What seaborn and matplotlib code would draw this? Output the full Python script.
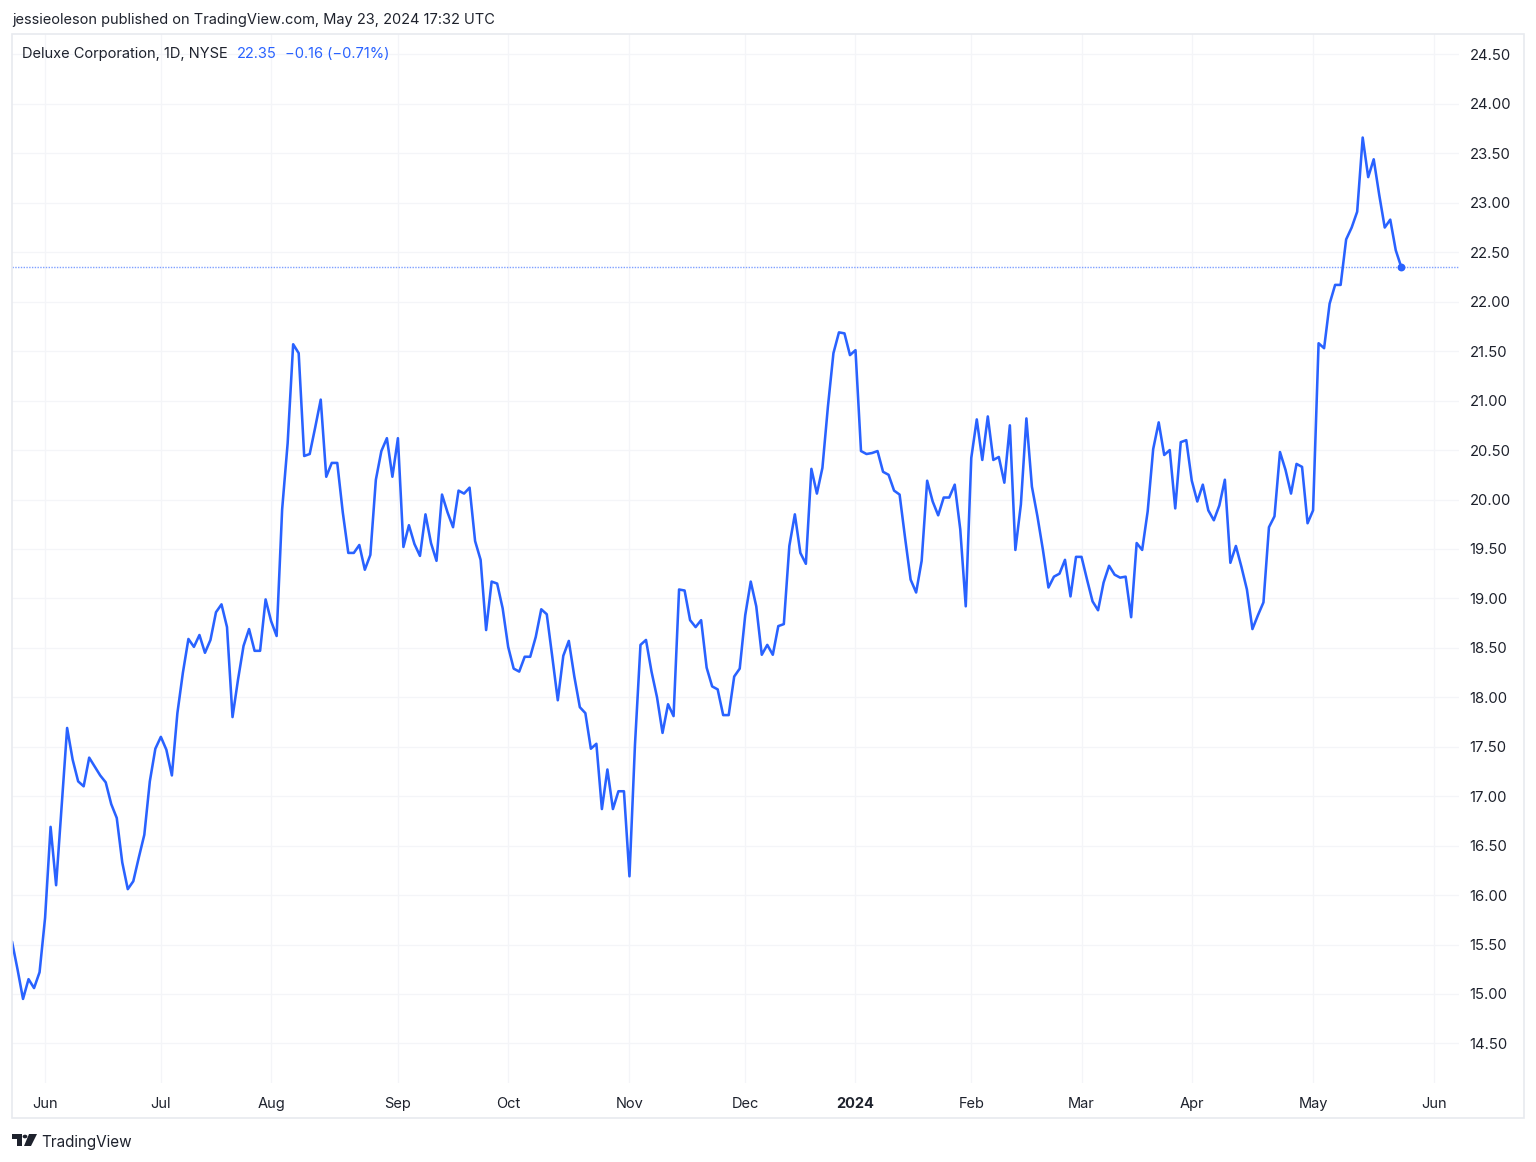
import matplotlib
matplotlib.use("Agg")
import matplotlib.pyplot as plt
from matplotlib.patches import Polygon, Rectangle
import numpy as np
import pandas as pd
import seaborn as sns

# daily close
close = [
    15.53, 15.25, 14.95, 15.15, 15.06, 15.22, 15.77, 16.69, 16.10, 16.90,
    17.69, 17.37, 17.15, 17.10, 17.39, 17.30, 17.21, 17.14, 16.92, 16.78,
    16.33, 16.06, 16.14, 16.38, 16.61, 17.15, 17.48, 17.60, 17.47, 17.21,
    17.84, 18.25, 18.59, 18.51, 18.63, 18.45, 18.58, 18.86, 18.94, 18.71,
    17.80, 18.18, 18.52, 18.69, 18.47, 18.47, 18.99, 18.77, 18.62, 19.90,
    20.57, 21.57, 21.48, 20.44, 20.46, 20.73, 21.01, 20.23, 20.37, 20.37,
    19.87, 19.46, 19.46, 19.54, 19.29, 19.44, 20.20, 20.49, 20.62, 20.23,
    20.62, 19.52, 19.74, 19.55, 19.43, 19.85, 19.56, 19.38, 20.05, 19.87,
    19.72, 20.09, 20.06, 20.12, 19.58, 19.39, 18.68, 19.17, 19.15, 18.90,
    18.51, 18.29, 18.26, 18.41, 18.41, 18.61, 18.89, 18.84, 18.41, 17.97,
    18.42, 18.57, 18.21, 17.90, 17.84, 17.48, 17.53, 16.87, 17.27, 16.87,
    17.05, 17.05, 16.19, 17.52, 18.53, 18.58, 18.26, 18.00, 17.64, 17.93,
    17.81, 19.09, 19.08, 18.78, 18.71, 18.78, 18.30, 18.11, 18.08, 17.82,
    17.82, 18.21, 18.29, 18.83, 19.17, 18.92, 18.43, 18.53, 18.43, 18.72,
    18.74, 19.53, 19.85, 19.46, 19.35, 20.31, 20.06, 20.32, 20.94, 21.48,
    21.69, 21.68, 21.46, 21.51, 20.49, 20.46, 20.47, 20.49, 20.28, 20.25,
    20.09, 20.05, 19.61, 19.19, 19.06, 19.38, 20.19, 19.98, 19.84, 20.02,
    20.02, 20.15, 19.70, 18.92, 20.42, 20.81, 20.40, 20.84, 20.40, 20.43,
    20.17, 20.75, 19.49, 19.95, 20.82, 20.13, 19.83, 19.49, 19.11, 19.22,
    19.25, 19.39, 19.02, 19.42, 19.42, 19.19, 18.97, 18.88, 19.16, 19.33,
    19.24, 19.21, 19.22, 18.81, 19.56, 19.49, 19.88, 20.51, 20.78, 20.45,
    20.50, 19.91, 20.58, 20.60, 20.19, 19.98, 20.15, 19.89, 19.79, 19.94,
    20.20, 19.36, 19.53, 19.32, 19.09, 18.69, 18.83, 18.96, 19.72, 19.83,
    20.48, 20.30, 20.06, 20.36, 20.33, 19.76, 19.89, 21.58, 21.53, 21.98,
    22.17, 22.17, 22.63, 22.75, 22.91, 23.66, 23.26, 23.44, 23.08, 22.75,
    22.83, 22.52, 22.35,
]
month_labels = ["Jun", "Jul", "Aug", "Sep", "Oct", "Nov", "Dec", "2024",
                "Feb", "Mar", "Apr", "May", "Jun"]
month_pos = [6, 27, 47, 70, 90, 112, 133, 153, 174, 194, 214, 236, 258]
price_ticks = [14.5, 15, 15.5, 16, 16.5, 17, 17.5, 18, 18.5, 19, 19.5,
               20, 20.5, 21, 21.5, 22, 22.5, 23, 23.5, 24, 24.5]

W, H = 1536, 1162
BLUE = "#2962FF"
TEXT = "#1e222d"
GRID = "#f4f5f8"
BORDER = "#e8eaef"

sns.set_theme(style="white")
plt.rcParams["font.family"] = ["Inter", "DejaVu Sans"]

df = pd.DataFrame({"bar": np.arange(len(close)), "close": close})

fig = plt.figure(figsize=(W / 100, H / 100), dpi=100, facecolor="white")

# pane in pixels: x 12-1459, y 34-1083
ax = fig.add_axes([12 / W, 1 - 1083 / H, (1459 - 12) / W, (1083 - 34) / H])
sns.lineplot(data=df, x="bar", y="close", color=BLUE, linewidth=1.85,
             estimator=None, ax=ax, zorder=3)
sns.scatterplot(data=df.tail(1), x="bar", y="close", color=BLUE, s=32,
                linewidth=0, ax=ax, zorder=4)
ax.axhline(close[-1], color="#7fa0ff", lw=1, ls=(0, (1, 1)), zorder=2)

ax.set_xlim(0, 262.47)
ax.set_ylim(14.10, 24.707)
ax.set_xlabel("")
ax.set_ylabel("")
ax.set_xticks(month_pos)
ax.set_xticklabels(month_labels)
ax.set_yticks(price_ticks)
ax.set_yticklabels([f"{p:.2f}" for p in price_ticks])
ax.yaxis.tick_right()
ax.tick_params(axis="y", length=0, pad=7.5, labelsize=10.7, labelcolor=TEXT)
ax.tick_params(axis="x", length=0, pad=10, labelsize=10.5, labelcolor=TEXT)
for lab in ax.get_xticklabels():
    if lab.get_text() == "2024":
        lab.set_fontweight("bold")
ax.grid(True, color=GRID, lw=0.9)
ax.set_axisbelow(True)
for s in ax.spines.values():
    s.set_visible(False)

# outer frame round pane and axes
fig.add_artist(Rectangle((12 / W, 1 - 1118 / H), (1524 - 12) / W, (1118 - 34) / H,
                         transform=fig.transFigure, fill=False,
                         edgecolor=BORDER, lw=1.2))

fig.text(12 / W, 1 - 20 / H, "jessieoleson published on TradingView.com, May 23, 2024 17:32 UTC",
         fontsize=10.5, color=TEXT, va="center", ha="left")
fig.text(22 / W, 1 - 54 / H, "Deluxe Corporation, 1D, NYSE",
         fontsize=10.55, color=TEXT, va="center", ha="left")
fig.text(237 / W, 1 - 54 / H, "22.35", fontsize=10.55, color=BLUE, va="center", ha="left")
fig.text(285 / W, 1 - 54 / H, "\u22120.16 (\u22120.71%)", fontsize=10.55, color=BLUE,
         va="center", ha="left")
fig.text(41 / W, 1 - 1142 / H, "TradingView", fontsize=11, color=TEXT, va="center", ha="left")


# logo, given in pixels
def px(points):
    return [(x / W, 1 - y / H) for x, y in points]


for shape in ([(12, 1134), (22, 1134), (22, 1146), (17, 1146), (17, 1139), (12, 1139)],
              [(29, 1134), (37, 1134), (31, 1146), (24, 1146)]):
    fig.add_artist(Polygon(px(shape), closed=True, transform=fig.transFigure,
                           facecolor=TEXT, edgecolor="none"))
fig.add_artist(plt.Circle((25 / W, 1 - 1136.5 / H), 2.4 / W, transform=fig.transFigure,
                          facecolor=TEXT, edgecolor="none"))

fig.savefig("out.png", dpi=100)
